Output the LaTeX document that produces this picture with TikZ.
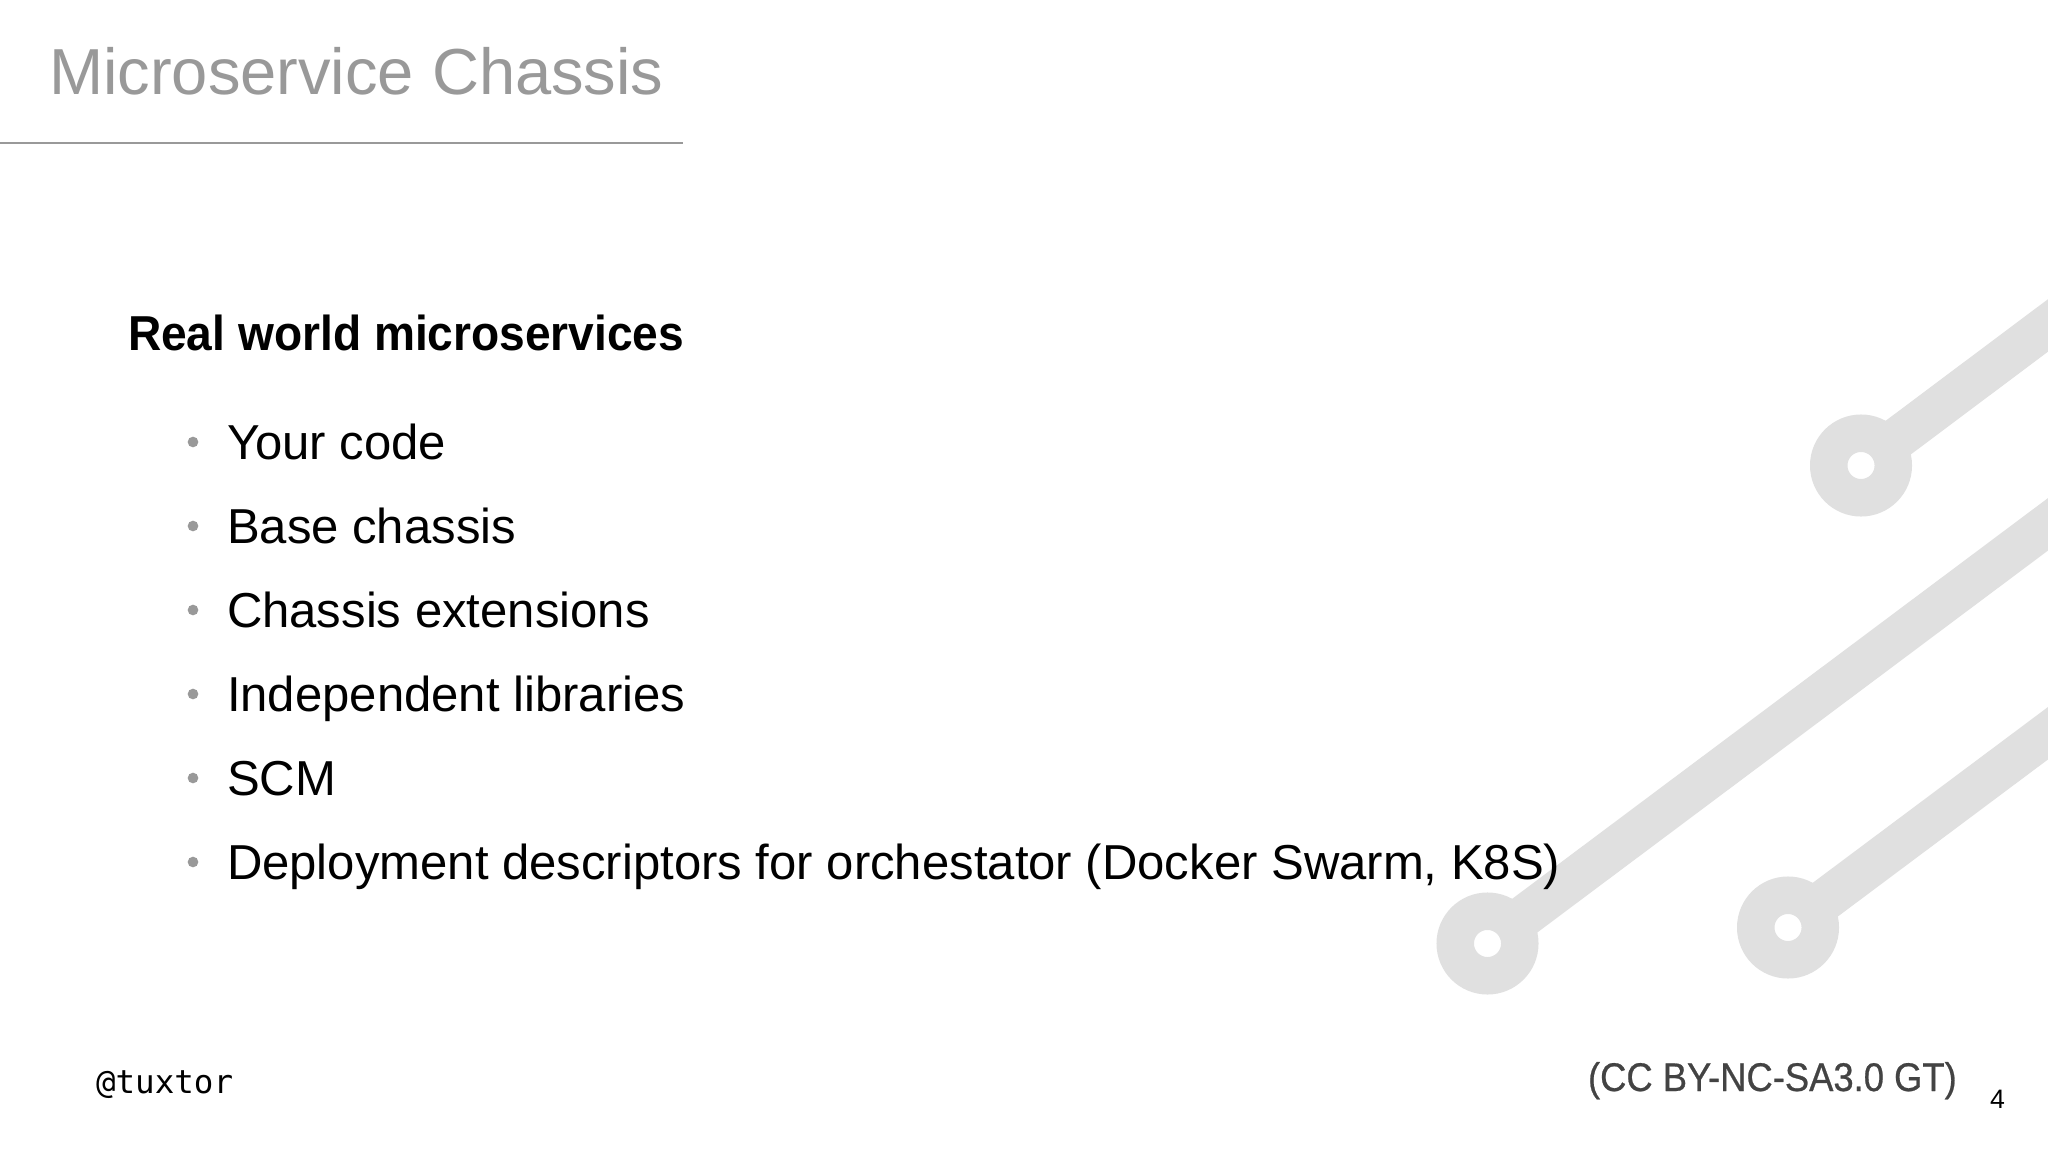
\documentclass[tikz,border=0pt]{standalone}
\usepackage{fontspec}
\setmainfont{Liberation Sans}
\newfontfamily\monof{DejaVu Sans Mono}
\newfontfamily\headf[FakeStretch=0.94]{Liberation Sans}
\newfontfamily\ccf[FakeStretch=0.91,FakeBold=0.6]{Liberation Sans}
\definecolor{padgray}{HTML}{E0E0E0}
\definecolor{titlegray}{HTML}{999999}
\definecolor{credit}{HTML}{434343}
\tikzset{
  pad/.style={circle,draw=padgray,line width=28.1pt,fill=white,minimum size=48.4pt,inner sep=0pt,outer sep=0pt},
  band/.style={draw=padgray,line width=31.5pt},
  txt/.style={anchor=base west,inner sep=0pt,outer sep=0pt},
  item/.style={txt,font=\fontsize{36.8}{40}\selectfont,text=black},
  dot/.style={circle,fill=titlegray,inner sep=0pt,minimum size=8pt}
}
\begin{document}
\begin{tikzpicture}[x=0.75pt,y=-0.75pt]
\useasboundingbox (0,0) rectangle (2048,1152);
\fill[white] (0,0) rectangle (2048,1152);
\begin{scope}
\clip (0,0) rectangle (2048,1152);
\coordinate (ea) at (2148,250.5);
\coordinate (eb) at (2148,449.5);
\coordinate (ec) at (2148,658.5);
\node[pad] (pa) at (1861,465.5) {};
\node[pad] (pb) at (1487.5,943.5) {};
\node[pad] (pc) at (1788,927.5) {};
\draw[band] (pa) -- (ea);
\draw[band] (pb) -- (eb);
\draw[band] (pc) -- (ec);
\end{scope}
\node[txt,font=\fontsize{48.8}{54}\selectfont,text=titlegray] (title) at (49,95) {Microservice Chassis};
\coordinate (rl) at (0,143);
\coordinate (rr) at (683,143);
\draw[titlegray,line width=1.5pt] (rl) -- (rr);
\node[txt,font=\headf\fontsize{36.8}{40}\selectfont\bfseries,text=black] (head) at (128,350.5) {Real world microservices};
\foreach \n/\y/\t in {a/459/Your code,b/543/Base chassis,c/627/Chassis extensions,d/711/Independent libraries,e/795/SCM,f/879/{Deployment descriptors for orchestator (Docker Swarm, K8S)}}{
  \node[item] (i\n) at (227,\y) {\t};
  \node[dot] (d\n) at (193,\y-17) {};
}
\node[txt,font=\monof\fontsize{24.4}{28}\selectfont,text=black] (handle) at (96,1093) {@tuxtor};
\node[txt,font=\ccf\fontsize{30}{34}\selectfont,text=credit] (cc) at (1588,1091) {(CC BY-NC-SA3.0 GT)};
\node[txt,font=\fontsize{20}{24}\selectfont,text=black] (num) at (1990,1108) {4};
\end{tikzpicture}
\end{document}
